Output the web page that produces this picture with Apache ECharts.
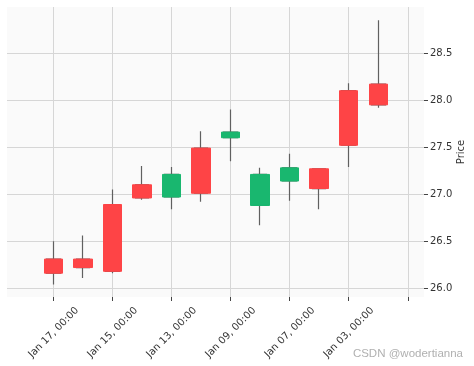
<!DOCTYPE html>
<html><head><meta charset="utf-8">
<script src="https://cdn.jsdelivr.net/npm/echarts@6/dist/echarts.min.js"></script>
<style>html,body{margin:0;padding:0;background:#fff}#c{width:474px;height:366px}</style>
</head><body><div id="c"></div>
<script>
// ---- data ----
const dates = ['Jan 17, 00:00','Jan 16, 00:00','Jan 15, 00:00','Jan 14, 00:00','Jan 13, 00:00','Jan 10, 00:00',
               'Jan 09, 00:00','Jan 08, 00:00','Jan 07, 00:00','Jan 06, 00:00','Jan 03, 00:00','Jan 02, 00:00'];
const opens  = [26.31, 26.31, 26.89, 27.10, 26.97, 27.49, 27.60, 26.88, 27.14, 27.27, 28.10, 28.17];
const closes = [26.16, 26.22, 26.18, 26.96, 27.21, 27.01, 27.66, 27.21, 27.28, 27.06, 27.52, 27.95];
const lows   = [26.04, 26.11, 26.16, 26.94, 26.84, 26.92, 27.35, 26.67, 26.93, 26.84, 27.29, 27.92];
const highs  = [26.50, 26.56, 27.05, 27.30, 27.29, 27.67, 27.90, 27.28, 27.43, 27.27, 28.18, 28.85];
const priceTicks = [26.0, 26.5, 27.0, 27.5, 28.0, 28.5];
const dateTickPos = [0, 2, 4, 6, 8, 10, 12];
const dateLabelPos = [0, 2, 4, 6, 8, 10];

// ---- layout / style constants ----
const LABEL_SHIFT = 0.8;   // matplotlib centres rotated labels on the tick
const UP = '#19b76f', DOWN = '#fe4446', WICK = '#606060';

const wickData = dates.map((d, i) => [i, opens[i], closes[i], lows[i], highs[i]]);
const bodyData = dates.map((d, i) => [i, opens[i], closes[i],
  Math.min(opens[i], closes[i]), Math.max(opens[i], closes[i])]);

const chart = echarts.init(document.getElementById('c'), null, {renderer: 'canvas'});
chart.setOption({
  animation: false,
  backgroundColor: '#ffffff',
  grid: {
    left: 7, right: 50, top: 7, bottom: 69,
    show: true, backgroundColor: '#fafafa', borderWidth: 0,
    containLabel: false, outerBoundsMode: 'none'
  },
  xAxis: {
    type: 'value', min: -1.58, max: 12.55,
    axisLine: {show: false, onZero: false},
    axisTick: {show: true, length: 4, customValues: dateTickPos, lineStyle: {color: '#444', width: 1}},
    splitLine: {show: true, lineStyle: {color: '#d6d6d6', width: 1}},
    axisLabel: {
      customValues: dateLabelPos.map(v => v + LABEL_SHIFT),
      formatter: v => dates[Math.round(v - LABEL_SHIFT)] || '',
      rotate: 45, margin: 12,
      fontFamily: 'DejaVu Sans', fontSize: 10, color: '#333'
    }
  },
  yAxis: {
    type: 'value', position: 'right', min: 25.907, max: 28.99,
    name: 'Price', nameLocation: 'middle', nameRotate: 90, nameGap: 32, nameMoveOverlap: false,
    nameTextStyle: {fontFamily: 'DejaVu Sans', fontSize: 10, color: '#333'},
    axisLine: {show: false, onZero: false},
    axisTick: {show: true, length: 4, customValues: priceTicks, lineStyle: {color: '#444', width: 1}},
    splitLine: {show: true, lineStyle: {color: '#d6d6d6', width: 1}},
    axisLabel: {
      customValues: priceTicks, margin: 6,
      formatter: v => v.toFixed(1),
      fontFamily: 'DejaVu Sans', fontSize: 10, color: '#333'
    }
  },
  series: [
    {
      type: 'candlestick', silent: true, barWidth: 14,
      itemStyle: {color: WICK, color0: WICK, borderColor: WICK, borderColor0: WICK, borderWidth: 1.2},
      emphasis: {disabled: true},
      data: wickData
    },
    {
      type: 'candlestick', silent: true, barWidth: 19,
      itemStyle: {color: UP, color0: DOWN, borderColor: UP, borderColor0: DOWN, borderWidth: 1},
      emphasis: {disabled: true},
      data: bodyData
    }
  ],
  graphic: [{
    type: 'text', x: 463, y: 354, silent: true,
    style: {text: 'CSDN @wodertianna', font: '11.5px "Liberation Sans"', fill: '#b0b0b0',
            textAlign: 'right', textVerticalAlign: 'middle'}
  }]
});
</script>
</body></html>
